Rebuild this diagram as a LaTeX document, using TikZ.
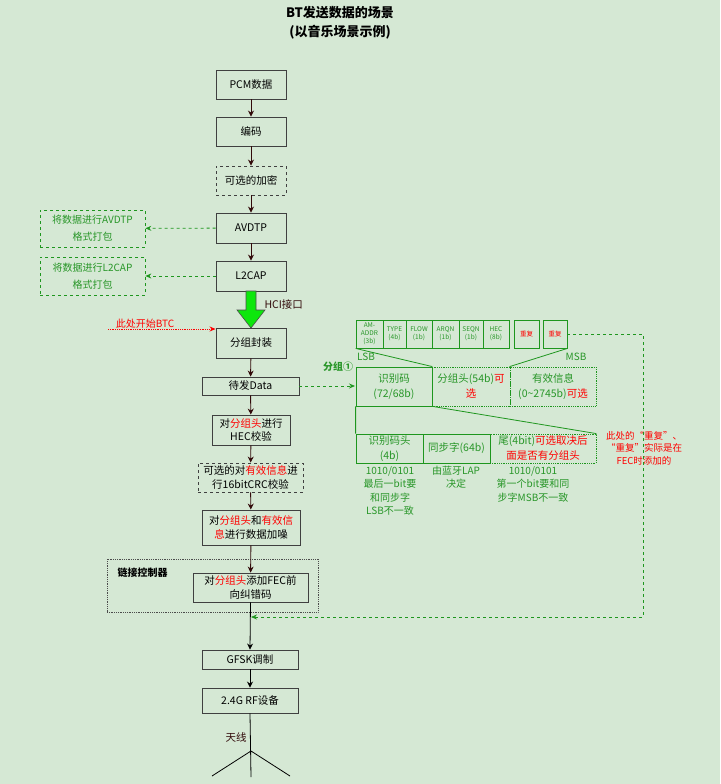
\documentclass[tikz,border=0pt]{standalone}
\usepackage{fontspec}
\setmainfont{Noto Sans CJK SC}
\usetikzlibrary{arrows.meta}
\definecolor{bg}{RGB}{213,232,212}
\definecolor{gtxt}{RGB}{40,150,40}
\definecolor{gln}{RGB}{30,150,30}
\definecolor{arr}{RGB}{50,10,10}
\newcommand{\R}[1]{\textcolor{red}{#1}}
\begin{document}
\begin{tikzpicture}[x=1pt,y=-1pt,
 box/.style={draw=black!75,line width=0.9pt,align=center,inner sep=0pt,font=\fontsize{10.5}{13.5}\selectfont},
 ar/.style={-{Stealth[length=6pt,width=6pt]},arr,line width=0.9pt},
 gbox/.style={draw=gln,dashed,line width=0.7pt,align=center,inner sep=0pt,text=gtxt,font=\fontsize{10}{17}\selectfont},
 gar/.style={-{Stealth[length=6pt,width=5pt]},gln,dashed,line width=0.8pt},
 fld/.style={draw=gln,line width=0.8pt,align=center,inner sep=0pt,text=gtxt,font=\fontsize{6.5}{8}\selectfont},
 pk/.style={draw=gln,line width=0.8pt,align=center,inner sep=0pt,text=gtxt,font=\fontsize{10.5}{15}\selectfont},
 gt/.style={text=gtxt,align=center,font=\fontsize{10}{13.5}\selectfont}]
\fill[bg] (0,0) rectangle (720,784);
\useasboundingbox (0,0) rectangle (720,784);
\node[font=\bfseries\fontsize{13}{19}\selectfont,align=center] (title) at (340,23) {BT发送数据的场景\\(以音乐场景示例)};
% main column
\node[box,minimum width=70,minimum height=29] (pcm) at (251,84.5) {PCM数据};
\node[box,minimum width=70,minimum height=29] (enc) at (251,131.5) {编码};
\node[box,dashed,minimum width=70,minimum height=29] (crypt) at (251,180.5) {可选的加密};
\node[box,minimum width=70,minimum height=30] (avdtp) at (251,228) {AVDTP};
\node[box,minimum width=70,minimum height=30] (l2cap) at (251,276) {L2CAP};
\node[box,minimum width=70,minimum height=30] (pack) at (251,343) {分组封装};
\node[box,minimum width=97,minimum height=18] (data) at (250.5,386) {待发Data};
\node[box,minimum width=78,minimum height=30] (hec) at (251,430) {对\R{分组头}进行\\HEC校验};
\node[box,dashed,minimum width=105,minimum height=29] (crc) at (250.5,477.5) {可选的对\R{有效信息}进\\行16bitCRC校验};
\node[box,minimum width=98,minimum height=35] (noise) at (251,527.5) {对\R{分组头}和\R{有效信}\\\R{息}进行数据加噪};
\node[draw=black!70,densely dotted,line width=0.8pt,minimum width=211,minimum height=53,inner sep=0pt] (lc) at (212.5,585.5) {};
\node[font=\bfseries\fontsize{10}{12}\selectfont,anchor=west] (lclab) at (114,573) {链接控制器};
\node[box,minimum width=115,minimum height=29] (fec) at (250.5,587.5) {对\R{分组头}添加FEC前\\向纠错码};
\coordinate (fecin) at (251,617);
\node[box,minimum width=96,minimum height=19] (gfsk) at (250,659.5) {GFSK调制};
\node[box,minimum width=96,minimum height=25] (rf) at (250,700.5) {2.4G RF设备};
\node[font=\fontsize{10.5}{12}\selectfont,text=arr] (ant) at (236,737) {天线};
\coordinate (a0) at (251,713); \coordinate (a1) at (251,751); \coordinate (a2) at (251,777);
\coordinate (al) at (212,776); \coordinate (arr2) at (290,776);
\draw[ar] (pcm) -- (enc);
\draw[ar] (enc) -- (crypt);
\draw[ar] (crypt) -- (avdtp);
\draw[ar] (avdtp) -- (l2cap);
\draw[ar] (pack) -- (data);
\draw[ar] (data) -- (hec);
\draw[ar] (hec) -- (crc);
\draw[ar] (crc) -- (noise);
\draw[ar] (noise) -- (fec);
\draw[ar,black,line width=0.8pt] (fec.south) -- (gfsk.north);
\draw[ar,black] (gfsk) -- (rf);
\draw[black,line width=0.8pt] (rf.south) -- (a2) (al) -- (a1) -- (arr2);
% HCI arrow
\fill[green!90!black!95,draw=black!70,line width=0.6pt] (246,291) -- (256,291) -- (256,310) -- (265,310) -- (251,328) -- (237,310) -- (246,310) -- cycle;
\node[font=\fontsize{10.5}{12}\selectfont,anchor=west,text=arr] (hci) at (261,305) {HCI接口};
% left green boxes
\node[gbox,minimum width=105,minimum height=37] (g1) at (92.5,228.5) {将数据进行AVDTP\\格式打包};
\node[gbox,minimum width=105,minimum height=38] (g2) at (92.5,276) {将数据进行L2CAP\\格式打包};
\draw[gar] (avdtp) -- (g1);
\draw[gar] (l2cap) -- (g2);
\node[text=red,font=\fontsize{10}{12}\selectfont] (btc) at (145,324) {此处开始BTC};
\coordinate (btcs) at (108,329);
\draw[-{Stealth[length=6pt,width=5pt]},red,densely dotted,line width=0.8pt] (btcs) -- (pack.west|-btcs);
% packet
\node[text=gtxt,font=\bfseries\fontsize{10}{12}\selectfont] (pk1) at (338,367) {分组①};
\draw[gar] (data) -- (355,386);
\node[fld,minimum width=27,minimum height=28] (f1) at (369.5,334) {AM-\\ADDR\\(3b)};
\node[fld,minimum width=23,minimum height=28] (f2) at (394.5,334) {TYPE\\(4b)};
\node[fld,minimum width=26,minimum height=28] (f3) at (419,334) {FLOW\\(1b)};
\node[fld,minimum width=27,minimum height=28] (f4) at (445.5,334) {ARQN\\(1b)};
\node[fld,minimum width=24,minimum height=28] (f5) at (471,334) {SEQN\\(1b)};
\node[fld,minimum width=26,minimum height=28] (f6) at (496,334) {HEC\\(8b)};
\node[fld,minimum width=25,minimum height=28,text=red] (r1) at (526.5,334) {重复};
\node[fld,minimum width=24,minimum height=28,text=red] (r2) at (555,334) {重复};
\node[gt] (lsb) at (366,357) {LSB};
\node[gt] (msb) at (576,357) {MSB};
\node[pk,minimum width=76,minimum height=39] (id) at (394,386.5) {识别码\\(72/68b)};
\node[pk,densely dotted,minimum width=78,minimum height=39] (hd) at (471,386.5) {分组头(54b)\R{可}\\\R{选}};
\node[pk,densely dotted,minimum width=86,minimum height=39] (pl) at (553,386.5) {有效信息\\(0\textasciitilde2745b)\R{可选}};
\draw[gln,line width=0.8pt] (f1.south west) -- (id.north east) (r2.south east) -- (pl.north west);
\node[pk,minimum width=67,minimum height=29] (b1) at (389.5,448.5) {识别码头\\(4b)};
\node[pk,minimum width=67,minimum height=29] (b2) at (456.5,448.5) {同步字(64b)};
\node[pk,densely dotted,minimum width=106,minimum height=29] (b3) at (543,448.5) {尾(4bit)\R{可选取决后}\\\R{面是否有分组头}};
\draw[gln,line width=0.8pt] (id.south west) -- (b1.north west) (id.south east) -- (b3.north east);
\node[gt] (t1) at (390,491) {1010/0101\\最后一bit要\\和同步字\\LSB不一致};
\node[gt] (t2) at (456,477) {由蓝牙LAP\\决定};
\node[gt] (t3) at (533,484) {1010/0101\\第一个bit要和同\\步字MSB不一致};
\node[text=red,align=center,font=\fontsize{9.5}{12.5}\selectfont] (note) at (644,448) {此处的“重复”、\\“重复”实际是在\\FEC时添加的};
\coordinate (c1) at (643,334); \coordinate (c2) at (643,617);
\draw[gar] (r2.east) -- (c1) -- (c2) -- (fecin);
\end{tikzpicture}
\end{document}
